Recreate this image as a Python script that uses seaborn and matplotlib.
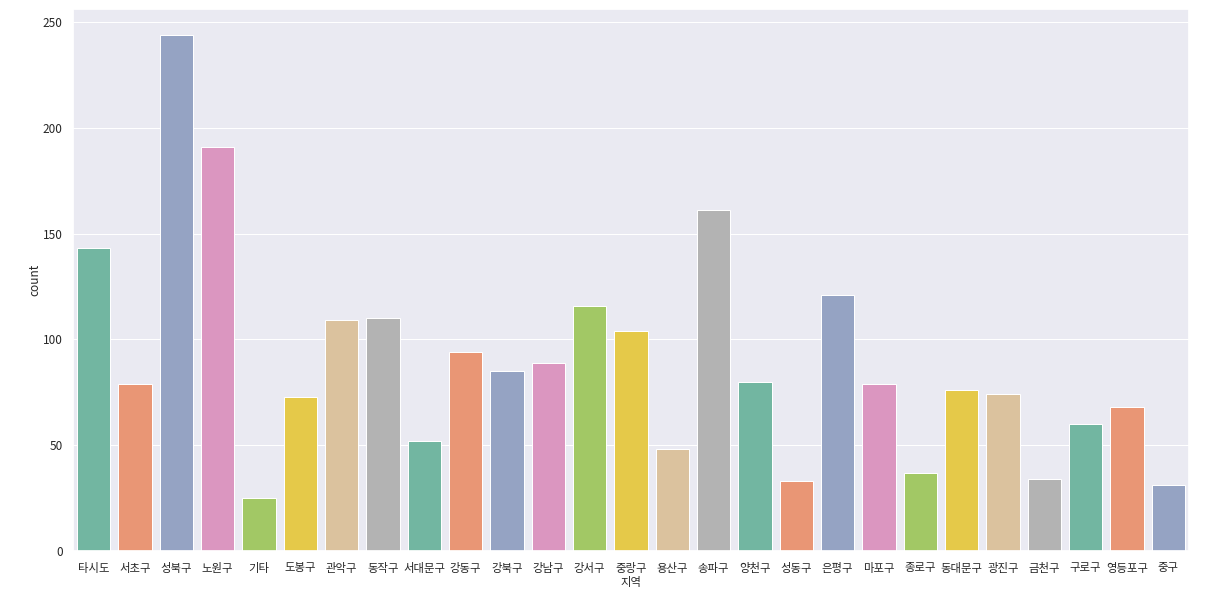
import matplotlib
matplotlib.use('Agg')
import pandas as pd
import seaborn as sns
import matplotlib.pyplot as plt

# district names in plot order
districts = ['타시도', '서초구', '성북구', '노원구', '기타', '도봉구', '관악구', '동작구', '서대문구',
             '강동구', '강북구', '강남구', '강서구', '중랑구', '용산구', '송파구', '양천구', '성동구',
             '은평구', '마포구', '종로구', '동대문구', '광진구', '금천구', '구로구', '영등포구', '중구']
counts = [143, 79, 244, 191, 25, 73, 109, 110, 52,
          94, 85, 89, 116, 104, 48, 161, 80, 33,
          121, 79, 37, 76, 74, 34, 60, 68, 31]

sns.set_theme(style='darkgrid')
plt.rcParams['font.family'] = ['Noto Sans CJK KR', 'DejaVu Sans']

df = pd.DataFrame({'지역': districts, 'count': counts})

fig = plt.figure(figsize=(12.05, 6.05), dpi=100)
ax = fig.add_axes([73 / 1205, 1 - 551 / 605, (1189 - 73) / 1205, 542 / 605])
sns.barplot(data=df, x='지역', y='count', hue='지역', order=districts, hue_order=districts,
            palette='Set2', legend=False, linewidth=0.72, ax=ax)
ax.grid(True, axis='y', linewidth=0.72)
ax.tick_params(axis='x', labelsize=8.2, pad=2.5)
ax.tick_params(axis='y', labelsize=8.5, pad=1.5)
ax.set_xlabel('지역', fontsize=8.2, labelpad=2)
ax.set_ylabel('count', fontsize=8.5, labelpad=1)

plt.savefig('out.png', dpi=100)
